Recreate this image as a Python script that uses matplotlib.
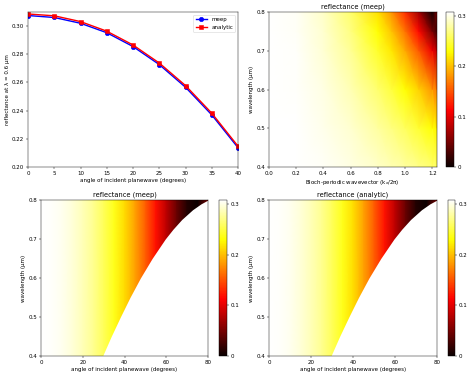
import numpy as np
import matplotlib
matplotlib.use("Agg")
import matplotlib.pyplot as plt

# ==============================
# reflectance at 0.6 um vs angle
# ==============================
angles_line = [0, 5, 10, 15, 20, 25, 30, 35, 40]
refl_meep_line = [0.3075, 0.3061, 0.3020, 0.2953, 0.2855, 0.2727, 0.2566, 0.2370, 0.2137]
refl_analytic_line = [0.3086, 0.3073, 0.3032, 0.2964, 0.2866, 0.2738, 0.2578, 0.2382, 0.2148]

# ==============================
# reflectance map vs Bloch wavevector and wavelength (meep)
# ==============================
kx_nodes = [0.0, 0.2, 0.4, 0.6, 0.8, 0.9, 1.0, 1.1, 1.2, 1.231]
wvl_nodes = [0.4, 0.5, 0.6, 0.7, 0.75, 0.8]
refl_kx_map = [
    [0.3086, 0.3075, 0.3041, 0.2982, 0.2896, 0.2841, 0.2778, 0.2706, 0.2623, 0.2595],
    [0.3086, 0.3069, 0.3014, 0.2920, 0.2778, 0.2686, 0.2578, 0.2450, 0.2299, 0.2247],
    [0.3086, 0.3061, 0.2982, 0.2841, 0.2623, 0.2477, 0.2299, 0.2081, 0.1812, 0.1715],
    [0.3086, 0.3052, 0.2942, 0.2743, 0.2421, 0.2195, 0.1908, 0.1536, 0.1046, 0.0864],
    [0.3086, 0.3046, 0.2920, 0.2686, 0.2299, 0.2019, 0.1653, 0.1163, 0.0504, 0.0271],
    [0.3086, 0.3041, 0.2896, 0.2623, 0.2158, 0.1812, 0.1343, 0.0697, 0.0001, 0.0504],
]

# ==============================
# reflectance vs angle over the full band (color maps)
# ==============================
angle_nodes = [0, 5, 10, 15, 20, 25, 30, 35, 40, 45, 50, 55, 60, 65, 70, 75, 80]
refl_meep_angle = [0.3075, 0.3062, 0.3021, 0.2953, 0.2855, 0.2727, 0.2567, 0.2371, 0.2138,
                   0.1865, 0.1552, 0.1200, 0.0820, 0.0438, 0.0116, 0.0009, 0.0500]
refl_analytic_angle = [0.3086, 0.3073, 0.3032, 0.2964, 0.2866, 0.2738, 0.2578, 0.2382, 0.2148,
                       0.1874, 0.1560, 0.1207, 0.0825, 0.0441, 0.0117, 0.0009, 0.0504]
band_wvl = [0.4, 0.8]

# largest angle reached by the kx sweep at each wavelength (white region beyond)
edge_wvl = [0.4, 0.45, 0.5, 0.55, 0.6, 0.65, 0.7, 0.725, 0.75, 0.775, 0.79, 0.8]
edge_angle = [29.5, 33.6, 38.0, 42.6, 47.6, 53.2, 59.5, 63.2, 67.4, 72.6, 76.6, 80.0]

cbar_ticks = [0, 0.1, 0.2, 0.3]
cbar_labels = ["0", "0.1", "0.2", "0.3"]

W, H = 474, 381
fig = plt.figure(figsize=(W / 40, H / 40), dpi=40)


def box(x0, x1, ytop, ybot):
    return [x0 / W, 1 - ybot / H, (x1 - x0) / W, (ybot - ytop) / H]


# ---- top left: line plot ----
ax1 = fig.add_axes(box(28, 238, 12, 167))
ax1.plot(angles_line, refl_meep_line, "bo-", label="meep", lw=2.5, ms=8)
ax1.plot(angles_line, refl_analytic_line, "rs-", label="analytic", lw=2.5, ms=8)
ax1.set_xlim(0, 40)
ax1.set_ylim(0.20, 0.31)
ax1.set_xticks(range(0, 41, 5))
ax1.set_yticks([0.20, 0.22, 0.24, 0.26, 0.28, 0.30])
ax1.set_xlabel("angle of incident planewave (degrees)")
ax1.set_ylabel("reflectance at λ = 0.6 μm")
ax1.legend(loc="upper right")

# ---- top right: meep map vs kx ----
ax2 = fig.add_axes(box(269, 436.5, 12, 167))
cax2 = fig.add_axes(box(446, 453.5, 12, 167))
kk, ww = np.meshgrid(kx_nodes, wvl_nodes)
m2 = ax2.pcolormesh(kk, ww, np.array(refl_kx_map), cmap="hot", shading="gouraud",
                    vmin=0, vmax=max(refl_meep_line))
ax2.set_xlim(0, kx_nodes[-1])
ax2.set_ylim(0.4, 0.8)
ax2.set_yticks([0.4, 0.5, 0.6, 0.7, 0.8])
ax2.set_xlabel("Bloch-periodic wavevector (k$_x$/2π)")
ax2.set_ylabel("wavelength (μm)")
ax2.set_title("reflectance (meep)")
cb2 = fig.colorbar(m2, cax=cax2, ticks=cbar_ticks)
cb2.set_ticklabels(cbar_labels)


# ---- bottom: maps vs angle ----
def angle_map(ax, cax, values, title):
    aa, ww = np.meshgrid(angle_nodes, band_wvl)
    vals = np.array([values, values])
    m = ax.pcolormesh(aa, ww, vals, cmap="hot", shading="gouraud", vmin=0, vmax=max(values))
    ax.fill_betweenx(edge_wvl, edge_angle, 80, color="white", linewidth=0)
    ax.set_xlim(0, 80)
    ax.set_ylim(0.4, 0.8)
    ax.set_xticks([0, 20, 40, 60, 80])
    ax.set_yticks([0.4, 0.5, 0.6, 0.7, 0.8])
    ax.set_xlabel("angle of incident planewave (degrees)")
    ax.set_ylabel("wavelength (μm)")
    ax.set_title(title)
    cb = fig.colorbar(m, cax=cax, ticks=cbar_ticks)
    cb.set_ticklabels(cbar_labels)


ax3 = fig.add_axes(box(41, 208, 200, 356))
cax3 = fig.add_axes(box(219.3, 226.7, 200, 356))
angle_map(ax3, cax3, refl_meep_angle, "reflectance (meep)")

ax4 = fig.add_axes(box(269, 437, 200, 356))
cax4 = fig.add_axes(box(447.7, 455, 200, 356))
angle_map(ax4, cax4, refl_analytic_angle, "reflectance (analytic)")

fig.savefig("out.png", dpi=40)
